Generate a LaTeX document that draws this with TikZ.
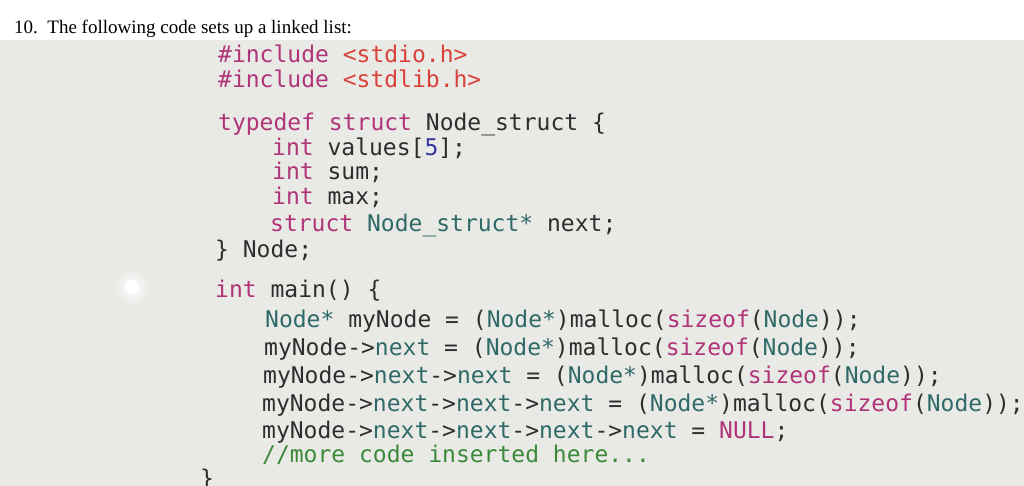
\documentclass[tikz,border=0pt]{standalone}
\usepackage{fontspec}
\setmainfont{Liberation Serif}
\setmonofont{DejaVu Sans Mono}
\definecolor{bg}{HTML}{E9E9E6}
\definecolor{kw}{HTML}{B03478}
\definecolor{st}{HTML}{D8423A}
\definecolor{ty}{HTML}{2F6A68}
\definecolor{nm}{HTML}{3535A0}
\definecolor{cm}{HTML}{3A8A3A}
\definecolor{tx}{HTML}{2E2E2E}
\newcommand{\Kw}[1]{\textcolor{kw}{#1}}
\newcommand{\Sr}[1]{\textcolor{st}{#1}}
\newcommand{\Ty}[1]{\textcolor{ty}{#1}}
\begin{document}
\begin{tikzpicture}[x=1pt,y=-1pt,
  code/.style={anchor=base west,inner sep=0pt,font=\ttfamily\fontsize{23}{23}\selectfont,text=tx}]
\useasboundingbox (0,0) rectangle (1024,486);
\fill[bg] (0,0) rectangle (1024,486);
\fill[white] (0,0) rectangle (1024,40);
\shade[inner color=white,outer color=bg] (132,287) circle (18);
\fill[white] (132,287) circle (7);
\node[anchor=base west,inner sep=0pt,font=\fontsize{19}{19}\selectfont,text=black] (title) at (14,34) {10.\ \ The following code sets up a linked list:};
\node[code] (l1) at (218,63) {\Kw{\#include} \Sr{<stdio.h>}};
\node[code] (l2) at (218,88) {\Kw{\#include} \Sr{<stdlib.h>}};
\node[code] (l3) at (218,131) {\Kw{typedef} \Kw{struct} Node\_struct \{};
\node[code] (l4) at (272,156) {\Kw{int} values[\textcolor{nm}{5}];};
\node[code] (l5) at (272,180) {\Kw{int} sum;};
\node[code] (l6) at (272,205) {\Kw{int} max;};
\node[code] (l7) at (270,232) {\Kw{struct} \Ty{Node\_struct*} next;};
\node[code] (l8) at (215,257) {\} Node;};
\node[code] (l9) at (215,297) {\Kw{int} main() \{};
\node[code] (l10) at (265,327) {\Ty{Node*} myNode = (\Ty{Node*})malloc(\Kw{sizeof}(\Ty{Node}));};
\node[code] (l11) at (264,355) {myNode->\Ty{next} = (\Ty{Node*})malloc(\Kw{sizeof}(\Ty{Node}));};
\node[code] (l12) at (263,383) {myNode->\Ty{next}->\Ty{next} = (\Ty{Node*})malloc(\Kw{sizeof}(\Ty{Node}));};
\node[code] (l13) at (262,411) {myNode->\Ty{next}->\Ty{next}->\Ty{next} = (\Ty{Node*})malloc(\Kw{sizeof}(\Ty{Node}));};
\node[code] (l14) at (262,438) {myNode->\Ty{next}->\Ty{next}->\Ty{next}->\Ty{next} = \Kw{NULL};};
\node[code] (l15) at (262,462) {\textcolor{cm}{//more code inserted here...}};
\node[code] (l16) at (200,486) {\}};
\end{tikzpicture}
\end{document}
